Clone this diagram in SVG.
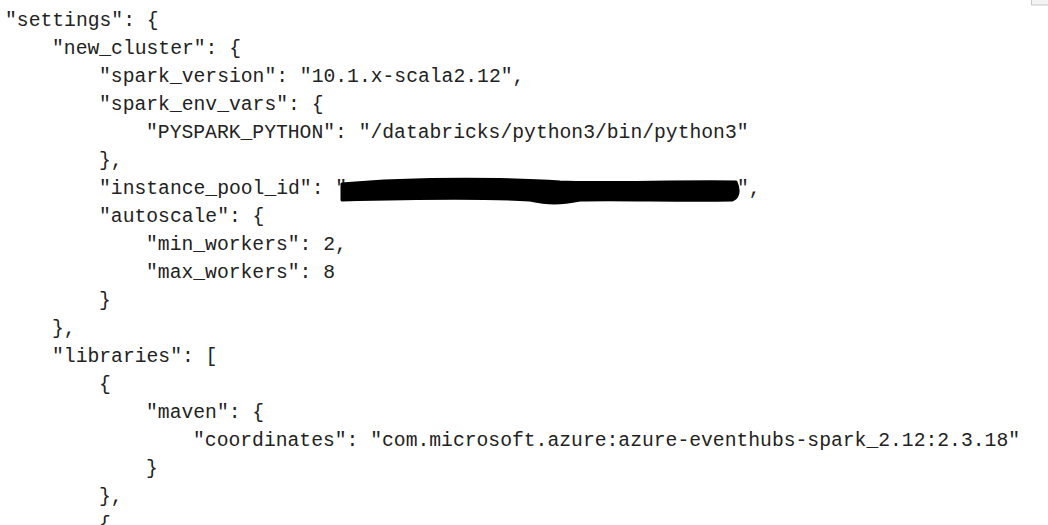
<svg xmlns="http://www.w3.org/2000/svg" width="1048" height="525" viewBox="0 0 1048 525">
<style>
text{font-family:"Liberation Mono","DejaVu Sans Mono",monospace;font-size:19.7px;fill:#222;white-space:pre}
</style>
<rect width="1048" height="525" fill="#fff"/>
<rect x="1031.5" y="-1" width="18" height="6" fill="#f3f3f3" stroke="#c8c8c8"/>
<g id="code">
<text x="5" y="26">"settings": {</text>
<text x="52" y="54">"new_cluster": {</text>
<text x="99" y="82">"spark_version": "10.1.x-scala2.12",</text>
<text x="99" y="110">"spark_env_vars": {</text>
<text x="146" y="138">"PYSPARK_PYTHON": "/databricks/python3/bin/python3"</text>
<text x="99" y="166">},</text>
<text x="99" y="194">"instance_pool_id": "                                 ",</text>
<text x="99" y="222">"autoscale": {</text>
<text x="146" y="250">"min_workers": 2,</text>
<text x="146" y="278">"max_workers": 8</text>
<text x="99" y="306">}</text>
<text x="52" y="334">},</text>
<text x="52" y="362">"libraries": [</text>
<text x="99" y="390">{</text>
<text x="146" y="418">"maven": {</text>
<text x="193" y="446">"coordinates": "com.microsoft.azure:azure-eventhubs-spark_2.12:2.3.18"</text>
<text x="146" y="474">}</text>
<text x="99" y="502">},</text>
<text x="99" y="530">{</text>
</g>
<path id="redaction" d="M342 184 C420 177 520 179 560 182 C600 184 680 181 736 182 C740 191 738 198 732 200 C680 201 620 199 580 200 C560 204 548 204 530 200 C480 197 420 198 342 200 Z" fill="#000" stroke="#000" stroke-width="3" stroke-linejoin="round"/>
</svg>
